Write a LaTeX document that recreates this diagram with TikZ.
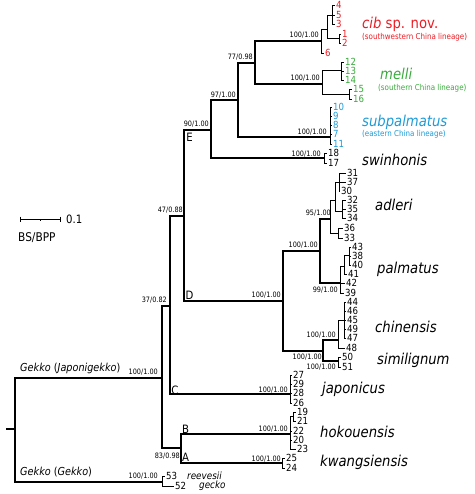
\documentclass[tikz,border=0pt]{standalone}
\usepackage{fontspec}
\setmainfont{DejaVu Sans}[FakeStretch=0.88]
\definecolor{cibred}{RGB}{235,28,36}
\definecolor{melgreen}{RGB}{57,170,60}
\definecolor{subblue}{RGB}{30,155,215}

\begin{document}
\begin{tikzpicture}[x=1pt, y=-1pt,
    br/.style={line width=1.1pt},
    tk/.style={line width=0.9pt},
    tip/.style={anchor=west, inner xsep=1pt, inner ysep=0pt, font=\fontsize{9.8}{10}\selectfont},
    bsl/.style={anchor=east, inner sep=0pt, font=\fontsize{7.4}{8}\selectfont},
    cladeid/.style={inner sep=0pt, font=\fontsize{11.5}{12}\selectfont},
    spname/.style={anchor=west, inner sep=0pt, font=\fontsize{15}{16}\selectfont\itshape},
    lineage/.style={anchor=west, inner sep=0pt, font=\fontsize{8.1}{9}\selectfont},
    grp/.style={anchor=west, inner sep=0pt, font=\fontsize{11}{12}\selectfont\itshape}
  ]
    \useasboundingbox (0,0) rectangle (474,494);

    % Internal nodes
    \coordinate (stub) at (6,429);
    \coordinate (root) at (15,429);
    \coordinate (jpg) at (162,378);
    \coordinate (gkk) at (162,482);
    \coordinate (n37) at (170,306);
    \coordinate (nab) at (181,448);
    \coordinate (nhok) at (290,434);
    \coordinate (nkw) at (282,463);
    \coordinate (n47) at (184,216);
    \coordinate (njap) at (290,394);
    \coordinate (ne) at (211,130);
    \coordinate (nd) at (283,301);
    \coordinate (n97) at (238,100);
    \coordinate (nsw) at (324,158);
    \coordinate (n77) at (255,63);
    \coordinate (nsub) at (330,137);
    \coordinate (ncib) at (321,41);
    \coordinate (nmel) at (322,84);
    \coordinate (npa) at (320,251);
    \coordinate (ncs) at (323,351);
    \coordinate (n95) at (330,219);
    \coordinate (n99) at (340,283);
    \coordinate (nchi) at (338,340);
    \coordinate (nsim) at (338,361);
    % Shallow nodes inside the lineages
    \coordinate (nca) at (327,29);
    \coordinate (nc453) at (332,15);
    \coordinate (nc12) at (339,38);
    \coordinate (nm1) at (341,70);
    \coordinate (nm2) at (349,94);
    \coordinate (nadx) at (335,200);
    \coordinate (nad1) at (339,182);
    \coordinate (nad2) at (342,211);
    \coordinate (nad3) at (338,233);
    \coordinate (npa1) at (344,266);
    \coordinate (npa2) at (349,255);
    \coordinate (nchA) at (344,320);
    \coordinate (nhA) at (293,416);

    % Branches
    \draw[br] (stub) -- (root);
    \draw[br] (root) |- (jpg)  (root) |- (gkk);
    \draw[br] (jpg) |- (n37)  (jpg) |- (nab);
    \draw[br] (nab) |- (nhok)  (nab) |- (nkw);
    \draw[br] (n37) |- (n47)  (n37) |- (njap);
    \draw[br] (n47) |- (ne)  (n47) |- (nd);
    \draw[br] (ne) |- (n97)  (ne) |- (nsw);
    \draw[br] (n97) |- (n77)  (n97) |- (nsub);
    \draw[br] (n77) |- (ncib)  (n77) |- (nmel);
    \draw[br] (nd) |- (npa)  (nd) |- (ncs);
    \draw[br] (npa) |- (n95)  (npa) |- (n99);
    \draw[br] (ncs) |- (nchi)  (ncs) |- (nsim);
    \draw[tk] (ncib) |- (nca)  (nca) |- (nc453)  (nca) |- (nc12);
    \draw[tk] (nmel) |- (nm1)  (nmel) |- (nm2);
    \draw[tk] (n95) |- (nadx)  (n95) |- (nad3)  (nadx) |- (nad1)  (nadx) |- (nad2);
    \draw[tk] (n99) |- (npa1)  (npa1) |- (npa2);
    \draw[tk] (nchi) |- (nchA);
    \draw[tk] (nhok) |- (nhA);

    % Tips: cib sp. nov., melli, subpalmatus
    \foreach \p/\x/\t/\y in {nc453/335/4/5, nc453/335/5/15, nc453/335/3/24,
                            nc12/341/1/34, nc12/341/2/43, ncib/324/6/53} {
      \node[tip, text=cibred] (t\t) at (\x,\y) {\t};
      \draw[tk] (\p) |- (t\t.west);
    }
    \foreach \p/\x/\t/\y in {nm1/344/12/62, nm1/344/13/71, nm1/344/14/80,
                            nm2/352/15/89, nm2/352/16/99} {
      \node[tip, text=melgreen] (t\t) at (\x,\y) {\t};
      \draw[tk] (\p) |- (t\t.west);
    }
    \foreach \t/\y in {10/107, 9/116, 8/125, 7/134, 11/144} {
      \node[tip, text=subblue] (t\t) at (332,\y) {\t};
      \draw[tk] (nsub) |- (t\t.west);
    }
    % Tips: the other species
    \foreach \p/\x/\t/\y in {nsw/327/18/153, nsw/327/17/163,
        nad1/346/31/173, nad1/346/37/182, nad1/340/30/191,
        nad2/346/32/200, nad2/346/35/209, nad2/346/34/218,
        nad3/343/36/228, nad3/343/33/238,
        npa2/351/43/247, npa2/351/38/256, npa2/351/40/265,
        npa1/347/41/274, n99/345/42/283, n99/344/39/293,
        nchA/346/44/302, nchA/346/46/311, nchA/346/45/320, nchA/346/49/329,
        nchA/346/47/338, nchi/345/48/348,
        nsim/341/50/357, nsim/341/51/367,
        njap/292/27/375, njap/292/29/384, njap/292/28/393, njap/292/26/403,
        nhA/296/19/412, nhA/296/21/421, nhok/292/22/431, nhok/292/20/440,
        nhok/296/23/449,
        nkw/285/25/458, nkw/285/24/468,
        gkk/165/53/476, gkk/174/52/486} {
      \node[tip] (t\t) at (\x,\y) {\t};
      \draw[tk] (\p) |- (t\t.west);
    }

    % Support values (BS/BPP)
    \node[bsl] (bjpg) at (158,372) {100/1.00};
    \node[bsl] (bgkk) at (158,476) {100/1.00};
    \node[bsl] (b37) at (167,300) {37/0.82};
    \node[bsl] (bab) at (180,456) {83/0.98};
    \node[bsl] (b47) at (183,210) {47/0.88};
    \node[bsl] (be) at (209,124) {90/1.00};
    \node[bsl] (b97) at (236,95) {97/1.00};
    \node[bsl] (b77) at (253,57) {77/0.98};
    \node[bsl] (bcib) at (319,35) {100/1.00};
    \node[bsl] (bmel) at (320,78) {100/1.00};
    \node[bsl] (bsub) at (327,132) {100/1.00};
    \node[bsl] (bsw) at (321,154) {100/1.00};
    \node[bsl] (bd) at (281,295) {100/1.00};
    \node[bsl] (bpa) at (318,245) {100/1.00};
    \node[bsl] (b95) at (331,213) {95/1.00};
    \node[bsl] (b99) at (338,290) {99/1.00};
    \node[bsl] (bcs) at (322,357) {100/1.00};
    \node[bsl] (bchi) at (336,335) {100/1.00};
    \node[bsl] (bsim) at (336,367) {100/1.00};
    \node[bsl] (bjap) at (288,390) {100/1.00};
    \node[bsl] (bhok) at (288,429) {100/1.00};
    \node[bsl] (bkw) at (281,459) {100/1.00};

    % Clade letters
    \node[cladeid] (cA) at (185.5,457) {A};
    \node[cladeid] (cB) at (185.5,429) {B};
    \node[cladeid] (cC) at (175,390) {C};
    \node[cladeid] (cD) at (189.5,295) {D};
    \node[cladeid] (cE) at (189.5,137) {E};

    % Species and lineages
    \node[spname, text=cibred] (scib) at (362,24) {cib \textup{sp. nov.}};
    \node[lineage, text=cibred] (lcib) at (362,37) {(southwestern China lineage)};
    \node[spname, text=melgreen] (smel) at (380,74) {melli};
    \node[lineage, text=melgreen] (lmel) at (378,88) {(southern China lineage)};
    \node[spname, text=subblue] (ssub) at (362,122) {subpalmatus};
    \node[lineage, text=subblue] (lsub) at (362,134) {(eastern China lineage)};
    \node[spname] (ssw) at (362,160) {swinhonis};
    \node[spname] (sadl) at (375,205) {adleri};
    \node[spname] (spal) at (377,269) {palmatus};
    \node[spname] (schi) at (375,327) {chinensis};
    \node[spname] (ssim) at (377,360) {similignum};
    \node[spname] (sjap) at (322,389) {japonicus};
    \node[spname] (shok) at (320,432) {hokouensis};
    \node[spname] (skw) at (320,462) {kwangsiensis};
    \node[grp, font=\fontsize{10}{11}\selectfont\itshape] (sree) at (187,476) {reevesii};
    \node[grp, font=\fontsize{10}{11}\selectfont\itshape] (sgec) at (199,486) {gecko};

    % Subgenera
    \node[grp] (gjap) at (20,368) {Gekko \textup{(}Japonigekko\textup{)}};
    \node[grp] (ggek) at (20,472) {Gekko \textup{(}Gekko\textup{)}};

    % Scale bar
    \coordinate (sb0) at (20,219);
    \coordinate (sb1) at (60,219);
    \draw[tk] (sb0) -- (sb1);
    \draw[tk] (20,216.5) -- (20,221.5)  (60,216.5) -- (60,221.5)  (40,219) -- (40,220.5);
    \node[anchor=west, inner sep=0pt, font=\fontsize{11.5}{12}\selectfont] (sbl) at (66,219) {0.1};
    \node[anchor=west, inner sep=0pt, font=\fontsize{12}{13}\selectfont] (bsbpp) at (18,238) {BS/BPP};
\end{tikzpicture}
\end{document}
